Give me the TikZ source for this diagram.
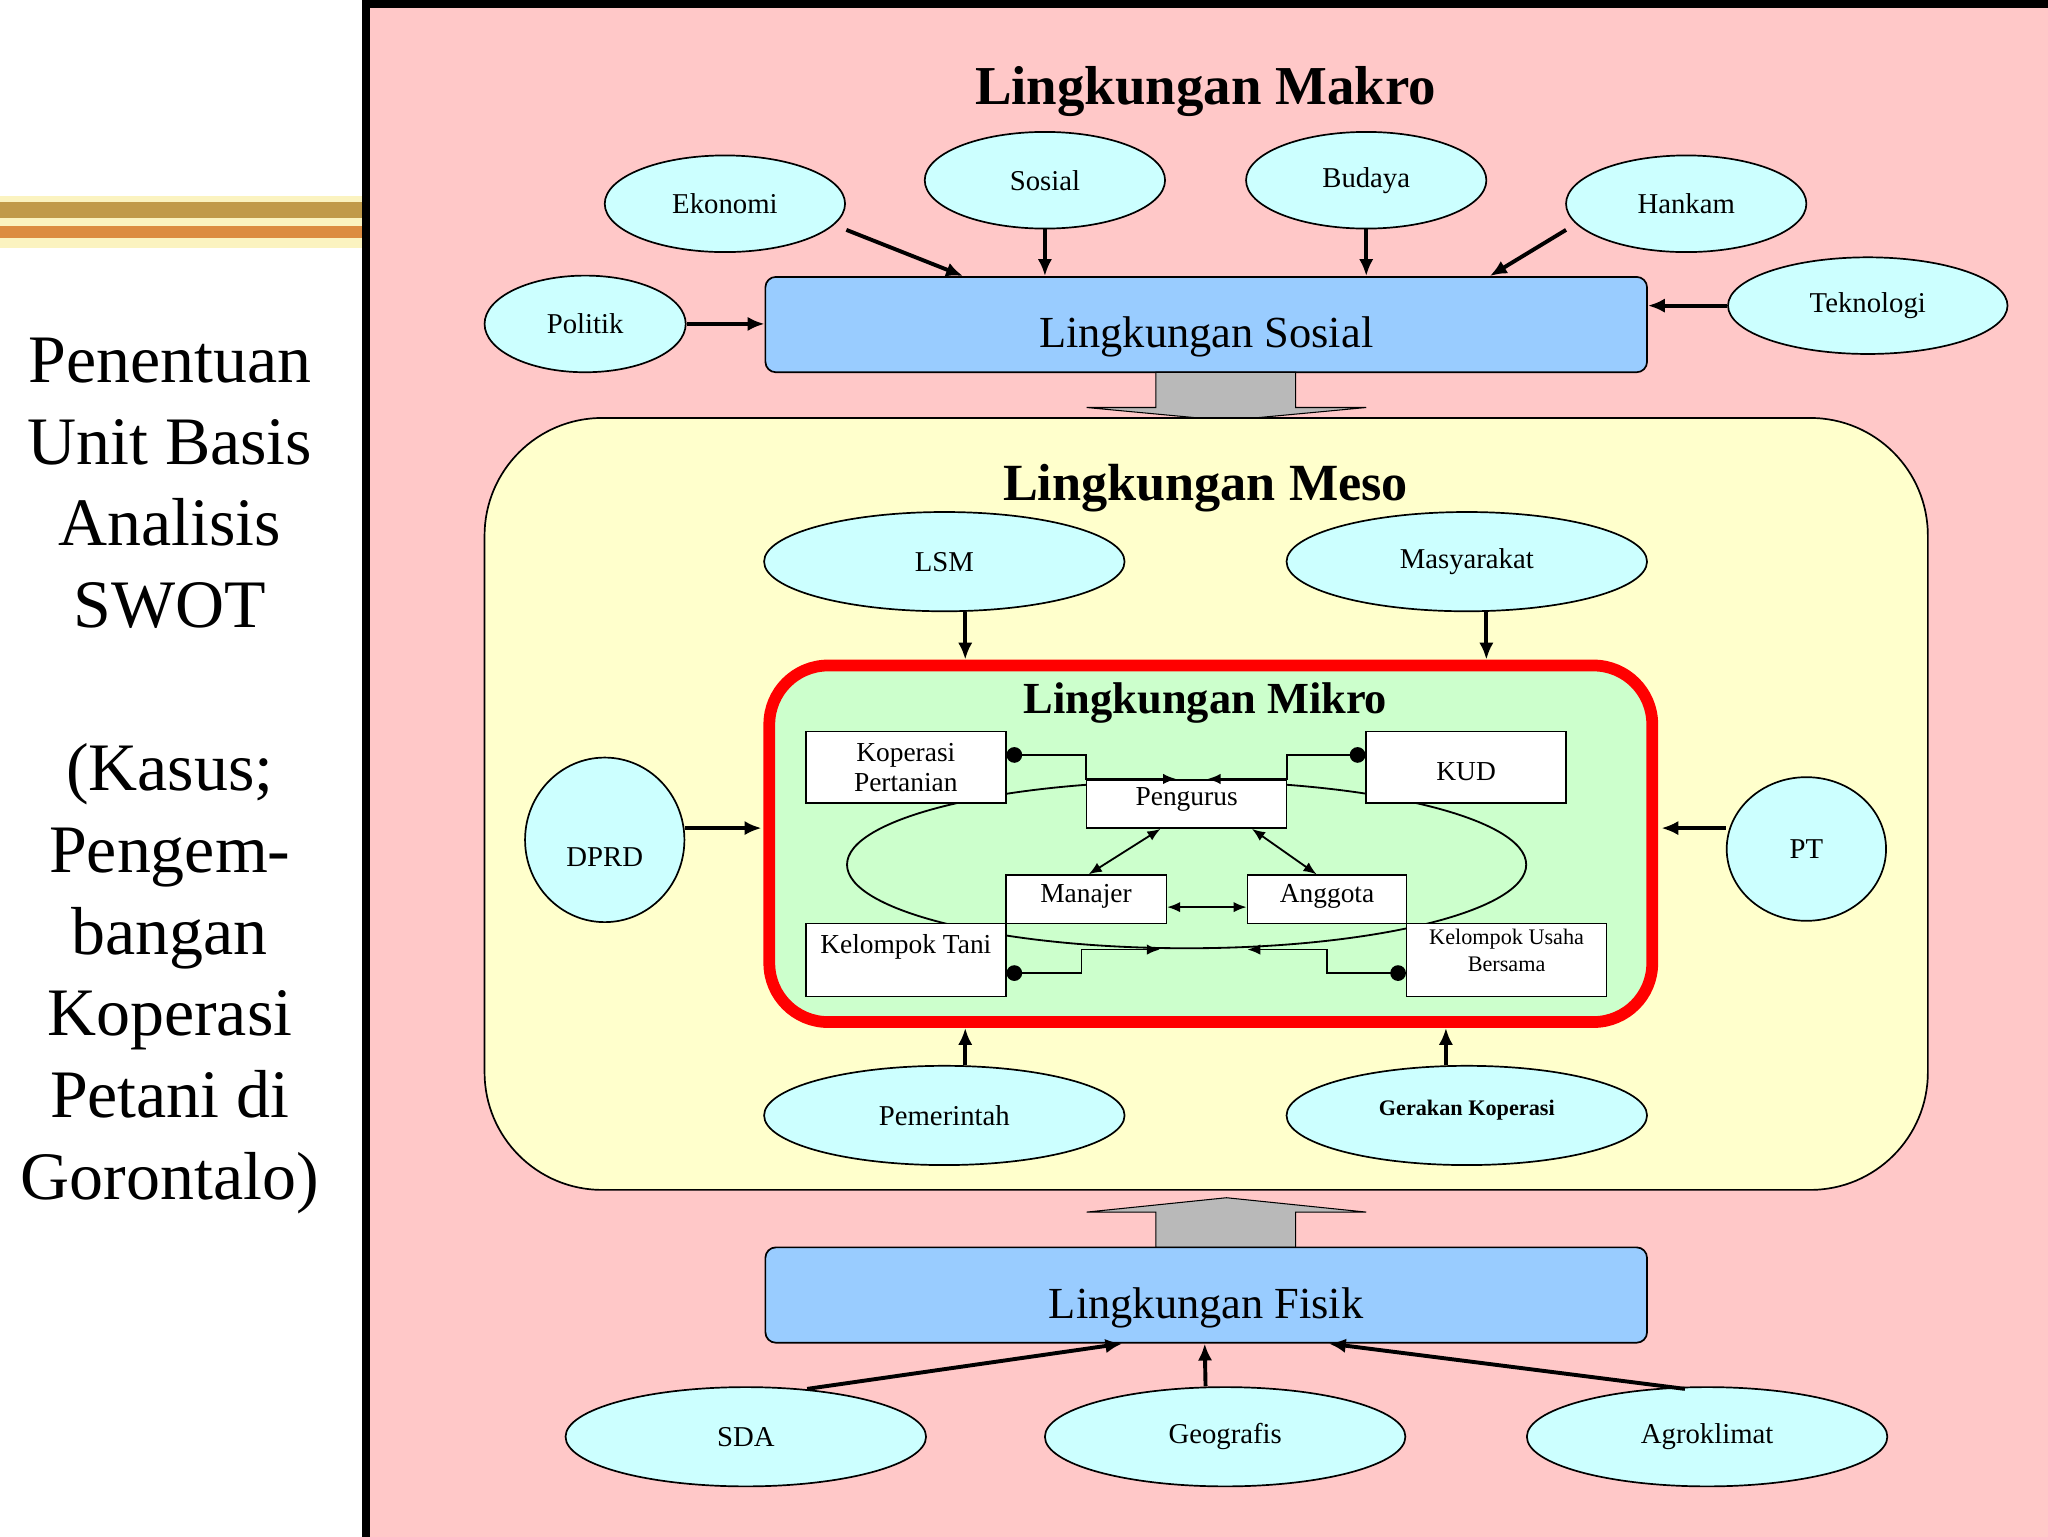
\documentclass[tikz,border=0pt]{standalone}
\usepackage{fontspec}
\setmainfont{Liberation Serif}
\usetikzlibrary{shapes.geometric,arrows.meta,calc}
\definecolor{ellc}{HTML}{CCFFFF}
\definecolor{boxc}{HTML}{99CCFF}
\definecolor{pinkc}{HTML}{FFC8C8}
\definecolor{mesoc}{HTML}{FFFFCC}
\definecolor{mikc}{HTML}{CCFFCC}
\definecolor{stripeA}{HTML}{C19A4A}
\definecolor{stripeB}{HTML}{DC8C40}
\definecolor{stripeL}{HTML}{FBF3C0}
\begin{document}
\begin{tikzpicture}[x=1pt,y=-1pt,
  ell/.style={ellipse,draw,line width=1.3pt,fill=ellc,inner sep=0pt,font=\fontsize{22}{24}\selectfont},
  bigbox/.style={draw,line width=1.3pt,fill=boxc,rounded corners=8pt,minimum width=675pt,minimum height=73pt},
  bigtxt/.style={font=\fontsize{34}{36}\selectfont},
  mbox/.style={draw,line width=1.2pt,fill=white,inner sep=1pt,font=\fontsize{21}{24}\selectfont,align=center},
  arr/.style={line width=3pt,-{Latex[length=13pt,width=11pt]}},
  darr/.style={line width=1.4pt,{Latex[length=10pt,width=8pt]}-{Latex[length=10pt,width=8pt]}},
  dotarr/.style={line width=1.4pt,{Circle[length=12pt]}-{Latex[length=10pt,width=8pt]}},
  garrow/.style={draw,line width=0.8pt,fill=gray!55}]
\useasboundingbox (0,0) rectangle (1568,1176);
\fill[white] (0,0) rectangle (1568,1176);
% stripes
\fill[stripeL] (0,150) rectangle (278,190);
\fill[stripeA] (0,155) rectangle (278,167);
\fill[stripeB] (0,173) rectangle (278,182);
% left text
\node[align=center,font=\fontsize{52}{62.5}\selectfont] (title) at (130,594) {Penentuan\\Unit Basis\\Analisis\\SWOT\\ \\(Kasus;\\Pengem-\\bangan\\Koperasi\\Petani di\\Gorontalo)};
% outer frame
\filldraw[fill=pinkc,line width=6pt] (280,3) rectangle (1575,1180);
\node[font=\fontsize{42}{44}\bfseries\selectfont] (makro) at (923,70) {Lingkungan Makro};
% macro ellipses
\node[ell,minimum width=184pt,minimum height=74pt] (eko) at (555,156) {Ekonomi};
\node[ell,minimum width=184pt,minimum height=74pt] (sosl) at (800,138) {Sosial};
\node[ell,minimum width=184pt,minimum height=74pt] (bud) at (1046,138) {Budaya};
\node[ell,minimum width=184pt,minimum height=74pt] (han) at (1291,156) {Hankam};
\node[ell,minimum width=154pt,minimum height=74pt] (pol) at (448,248) {Politik};
\node[ell,minimum width=214pt,minimum height=74pt] (tek) at (1430,234) {Teknologi};
\node[bigbox] (sos) at (923.5,248.5) {};
\node[bigtxt] (sost) at (923.5,258) {Lingkungan Sosial};
\coordinate (ekoS) at (648,176);
\coordinate (hanS) at (1199,176);
\draw[arr] (ekoS) -- ($(sos.north west)+(152,0)$);
\draw[arr] (sosl.south) -- (sosl.south |- sos.north);
\draw[arr] (bud.south) -- (bud.south |- sos.north);
\draw[arr] (hanS) -- ($(sos.north east)+(-121,0)$);
\draw[arr] (pol.east) -- (pol.east -| sos.west);
\draw[arr] (tek.west) -- (tek.west -| sos.east);
% gray arrow down
\path[garrow] (885,285) -- (992,285) -- (992,312) -- (1046,312) -- (939,322) -- (832,312) -- (885,312) -- cycle;
% meso
\filldraw[fill=mesoc,line width=1.3pt,rounded corners=90pt] (371,320) rectangle (1476,911);
\node[font=\fontsize{40}{42}\bfseries\selectfont] (meso) at (923,374) {Lingkungan Meso};
\node[ell,minimum width=276pt,minimum height=76pt] (lsm) at (723,430) {LSM};
\node[ell,minimum width=276pt,minimum height=76pt] (mas) at (1123,430) {Masyarakat};
\node[ell,minimum width=122pt,minimum height=126pt] (dprd) at (463,643) {};
\node[font=\fontsize{22}{24}\selectfont] (dprdt) at (463,656) {DPRD};
\node[ell,minimum width=122pt,minimum height=110pt] (pt) at (1383,650) {PT};
\node[ell,minimum width=276pt,minimum height=76pt] (pem) at (723,854) {Pemerintah};
\node[ell,minimum width=276pt,minimum height=76pt] (ger) at (1123,854) {};
\node[font=\fontsize{17}{19}\bfseries\selectfont] (gert) at (1123,850) {Gerakan Koperasi};
% micro
\node[draw=red,line width=9pt,fill=mikc,rounded corners=45pt,minimum width=676pt,minimum height=273pt] (mik) at (927,646) {};
\node[font=\fontsize{34}{36}\bfseries\selectfont] (mikt) at (923,538) {Lingkungan Mikro};
\draw[arr] (lsm.south -| 739,0) -- (739,505);
\draw[arr] (mas.south -| 1138,0) -- (1138,505);
\draw[arr] (dprd.east |- 0,634) -- (583,634);
\draw[arr] (pt.west |- 0,634) -- (1272,634);
\draw[arr] (pem.north -| 739,0) -- (739,787);
\draw[arr] (ger.north -| 1107,0) -- (1107,787);
% inner ellipse
\draw[line width=1.4pt] (908.5,662) ellipse [x radius=260, y radius=64];
\node[mbox,minimum width=153pt,minimum height=55pt] (kp) at (693.5,587.5) {Koperasi\\[-1pt]Pertanian};
\node[mbox,minimum width=153pt,minimum height=55pt] (kud) at (1122.5,587.5) {};
\node[font=\fontsize{21}{24}\selectfont] (kudt) at (1122.5,591) {KUD};
\node[mbox,minimum width=153pt,minimum height=37pt] (peng) at (908.5,615.5) {};
\node[font=\fontsize{21}{24}\selectfont] (pengt) at (908.5,612) {Pengurus};
\node[mbox,minimum width=123pt,minimum height=37pt] (man) at (831.5,688.5) {};
\node[font=\fontsize{21}{24}\selectfont] (mant) at (831.5,686) {Manajer};
\node[mbox,minimum width=122pt,minimum height=37pt] (ang) at (1016,688.5) {};
\node[font=\fontsize{21}{24}\selectfont] (angt) at (1016,686) {Anggota};
\node[mbox,minimum width=153pt,minimum height=56pt] (kt) at (693.5,735) {Kelompok Tani\\ \phantom{X}};
\node[mbox,minimum width=153pt,minimum height=56pt,font=\fontsize{17}{21}\selectfont] (kub) at (1153.5,735) {Kelompok Usaha\\Bersama\\[-6pt]};
\draw[dotarr] ($(kp.east)+(0,-9.5)$) -| (peng.north west) -- ($(peng.north)+(-8,0)$);
\draw[dotarr] ($(kud.west)+(0,-9.5)$) -| (peng.north east) -- ($(peng.north)+(16,0)$);
\coordinate (bl) at (828,727);
\coordinate (br) at (1016,727);
\draw[dotarr] ($(kt.east)+(0,10)$) -| (bl) -- (888,727);
\draw[dotarr] ($(kub.west)+(0,10)$) -| (br) -- (955,727);
\draw[darr] ($(peng.south)+(-20,0)$) -- ($(man.north)+(2,0)$);
\draw[darr] ($(peng.south)+(50,0)$) -- ($(ang.north)+(-8,0)$);
\draw[darr] ($(man.east)+(0,6)$) -- ($(ang.west)+(0,6)$);
% gray arrow up
\path[garrow] (885,955) -- (992,955) -- (992,928) -- (1046,928) -- (939,917) -- (832,928) -- (885,928) -- cycle;
\node[bigbox] (fis) at (923.5,991.5) {};
\node[bigtxt] (fist) at (923.5,1001) {Lingkungan Fisik};
\node[ell,minimum width=276pt,minimum height=76pt] (sda) at (571,1100) {SDA};
\node[ell,minimum width=276pt,minimum height=76pt] (geo) at (938,1100) {Geografis};
\node[ell,minimum width=276pt,minimum height=76pt] (agr) at (1307,1100) {Agroklimat};
\draw[arr] ($(sda.north)+(47,2)$) -- ($(fis.south west)+(274,0)$);
\draw[arr] ($(geo.north)+(-15,0)$) -- ($(fis.south west)+(337,0)$);
\draw[arr] ($(agr.north)+(-17,2)$) -- ($(fis.south west)+(432,0)$);
\end{tikzpicture}
\end{document}
